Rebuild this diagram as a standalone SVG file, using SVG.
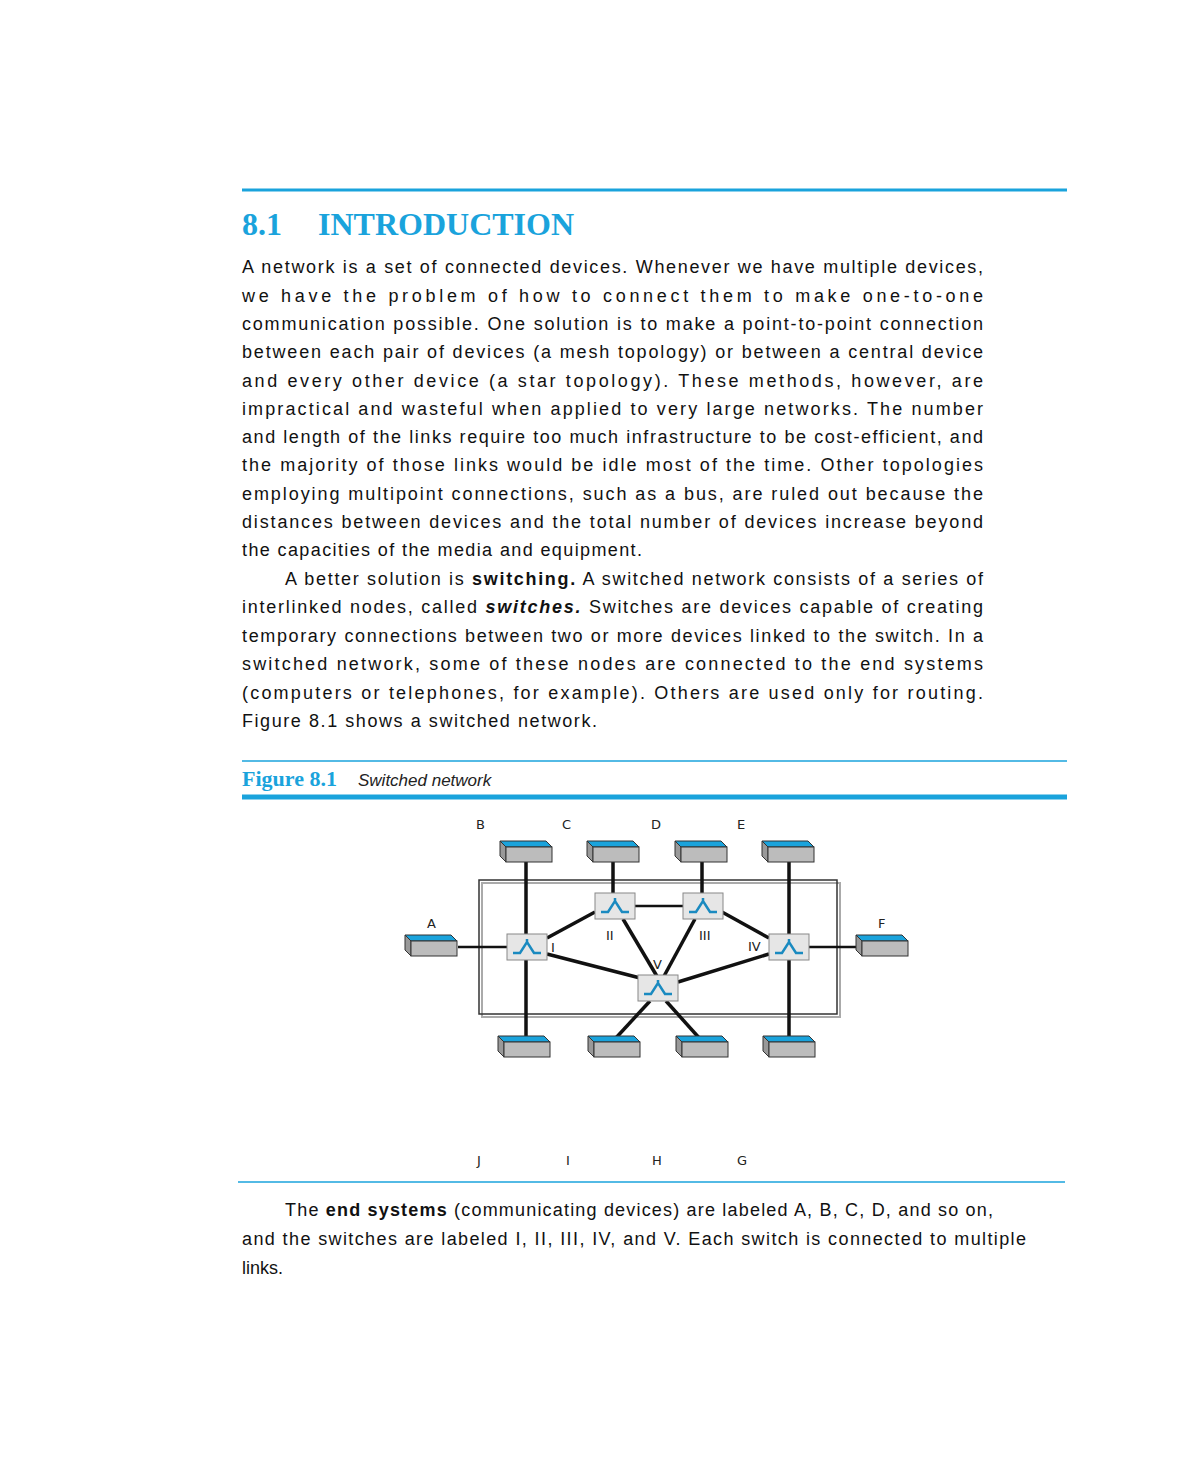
<svg xmlns="http://www.w3.org/2000/svg" width="1200" height="1457" viewBox="0 0 1200 1457">
<style>
.b{font-family:"Liberation Sans",Arial,sans-serif;font-size:18px;fill:#111}
.h{font-family:"Liberation Serif","Times New Roman",serif;font-weight:bold;fill:#1aa3dc}
.l{font-family:"DejaVu Sans",sans-serif;font-size:13px;fill:#222}
.ln{stroke:#111;stroke-width:3.5;fill:none}
.sw rect{fill:#e6e6e6;stroke:#888;stroke-width:1}
.sw path{fill:none;stroke:#1a8ac0;stroke-width:2.5}
</style>
<defs>
<g id="pc">
<polygon points="0,0 46,0 52,6 6,6" fill="#1aa3dc" stroke="#333" stroke-width="1"/>
<polygon points="0,0 6,6 6,21 0,15" fill="#999" stroke="#333" stroke-width="1"/>
<rect x="6" y="6" width="46" height="15" fill="#bcbcbc" stroke="#333" stroke-width="1"/>
</g>
<g id="swi" class="sw">
<rect x="0" y="0" width="40" height="26"/>
<path d="M6,19 H13 L20,8 L27,19 H34 M20,8 V5"/>
</g>
</defs>
<rect width="1200" height="1457" fill="#fff"/>
<line x1="242" y1="190" x2="1067" y2="190" stroke="#1aa3dc" stroke-width="3"/>
<text class="h" x="242" y="235" font-size="32">8.1</text>
<text class="h" x="318" y="235" font-size="32">INTRODUCTION</text>
<g class="b">
<text x="242" y="273" textLength="741" lengthAdjust="spacing">A network is a set of connected devices. Whenever we have multiple devices,</text>
<text x="242" y="302" textLength="741" lengthAdjust="spacing">we have the problem of how to connect them to make one-to-one</text>
<text x="242" y="330" textLength="741" lengthAdjust="spacing">communication possible. One solution is to make a point-to-point connection</text>
<text x="242" y="358" textLength="741" lengthAdjust="spacing">between each pair of devices (a mesh topology) or between a central device</text>
<text x="242" y="387" textLength="741" lengthAdjust="spacing">and every other device (a star topology). These methods, however, are</text>
<text x="242" y="415" textLength="741" lengthAdjust="spacing">impractical and wasteful when applied to very large networks. The number</text>
<text x="242" y="443" textLength="741" lengthAdjust="spacing">and length of the links require too much infrastructure to be cost-efficient, and</text>
<text x="242" y="471" textLength="741" lengthAdjust="spacing">the majority of those links would be idle most of the time. Other topologies</text>
<text x="242" y="500" textLength="741" lengthAdjust="spacing">employing multipoint connections, such as a bus, are ruled out because the</text>
<text x="242" y="528" textLength="741" lengthAdjust="spacing">distances between devices and the total number of devices increase beyond</text>
<text x="242" y="556" textLength="400" lengthAdjust="spacing">the capacities of the media and equipment.</text>
<text x="285" y="585" textLength="698" lengthAdjust="spacing">A better solution is <tspan font-weight="bold">switching.</tspan> A switched network consists of a series of</text>
<text x="242" y="613" textLength="741" lengthAdjust="spacing">interlinked nodes, called <tspan font-weight="bold" font-style="italic">switches.</tspan> Switches are devices capable of creating</text>
<text x="242" y="642" textLength="741" lengthAdjust="spacing">temporary connections between two or more devices linked to the switch. In a</text>
<text x="242" y="670" textLength="741" lengthAdjust="spacing">switched network, some of these nodes are connected to the end systems</text>
<text x="242" y="699" textLength="741" lengthAdjust="spacing">(computers or telephones, for example). Others are used only for routing.</text>
<text x="242" y="727" textLength="355" lengthAdjust="spacing">Figure 8.1 shows a switched network.</text>
</g>
<line x1="242" y1="761" x2="1067" y2="761" stroke="#1aa3dc" stroke-width="1.5"/>
<text class="h" x="242" y="786" font-size="22">Figure 8.1</text>
<text x="358" y="786" font-family="Liberation Sans,Arial,sans-serif" font-style="italic" font-size="17" fill="#222">Switched network</text>
<line x1="242" y1="797" x2="1067" y2="797" stroke="#1aa3dc" stroke-width="5"/>

<rect x="482" y="883" width="358" height="134" fill="none" stroke="#aaa" stroke-width="2"/>
<rect x="479" y="880" width="358" height="134" fill="none" stroke="#333" stroke-width="1.5"/>

<g id="connectors" class="ln">
<line x1="526" y1="862" x2="526" y2="1040"/>
<line x1="789" y1="862" x2="789" y2="1040"/>
<line x1="613" y1="862" x2="613" y2="893"/>
<line x1="702" y1="862" x2="702" y2="893"/>
<line x1="458" y1="947" x2="507" y2="947" stroke-width="2.5"/>
<line x1="809" y1="947" x2="858" y2="947" stroke-width="2.5"/>
<line x1="635" y1="906" x2="683" y2="906" stroke-width="2.5"/>
<line x1="547" y1="938" x2="595" y2="912"/>
<line x1="547" y1="954" x2="644" y2="979"/>
<line x1="623" y1="919" x2="658" y2="978"/>
<line x1="695" y1="919" x2="663" y2="978"/>
<line x1="722" y1="912" x2="769" y2="938"/>
<line x1="678" y1="982" x2="769" y2="954"/>
<line x1="650" y1="1001" x2="614" y2="1040"/>
<line x1="666" y1="1001" x2="701" y2="1040"/>
</g>

<g id="B"><use href="#pc" x="500" y="841"/><text class="l" x="476" y="829">B</text></g>
<g id="C"><use href="#pc" x="587" y="841"/><text class="l" x="562" y="829">C</text></g>
<g id="D"><use href="#pc" x="675" y="841"/><text class="l" x="651" y="829">D</text></g>
<g id="E"><use href="#pc" x="762" y="841"/><text class="l" x="737" y="829">E</text></g>
<g id="A"><use href="#pc" x="405" y="935"/><text class="l" x="427" y="928">A</text></g>
<g id="F"><use href="#pc" x="856" y="935"/><text class="l" x="878" y="928">F</text></g>
<g id="J"><use href="#pc" x="498" y="1036"/><text class="l" x="477" y="1165">J</text></g>
<g id="I"><use href="#pc" x="588" y="1036"/><text class="l" x="566" y="1165">I</text></g>
<g id="H"><use href="#pc" x="676" y="1036"/><text class="l" x="652" y="1165">H</text></g>
<g id="G"><use href="#pc" x="763" y="1036"/><text class="l" x="737" y="1165">G</text></g>

<g id="swI"><use href="#swi" x="507" y="934"/><text class="l" x="551" y="952">I</text></g>
<g id="swII"><use href="#swi" x="595" y="893"/><text class="l" x="606" y="940">II</text></g>
<g id="swIII"><use href="#swi" x="683" y="893"/><text class="l" x="699" y="940">III</text></g>
<g id="swIV"><use href="#swi" x="769" y="934"/><text class="l" x="748" y="951">IV</text></g>
<g id="swV"><use href="#swi" x="638" y="975"/><text class="l" x="653" y="969">V</text></g>

<line x1="238" y1="1182" x2="1065" y2="1182" stroke="#1aa3dc" stroke-width="1.5"/>
<g class="b">
<text x="285" y="1216" textLength="708" lengthAdjust="spacing">The <tspan font-weight="bold">end systems</tspan> (communicating devices) are labeled A, B, C, D, and so on,</text>
<text x="242" y="1245" textLength="784" lengthAdjust="spacing">and the switches are labeled I, II, III, IV, and V. Each switch is connected to multiple</text>
<text x="242" y="1274">links.</text>
</g>
</svg>
